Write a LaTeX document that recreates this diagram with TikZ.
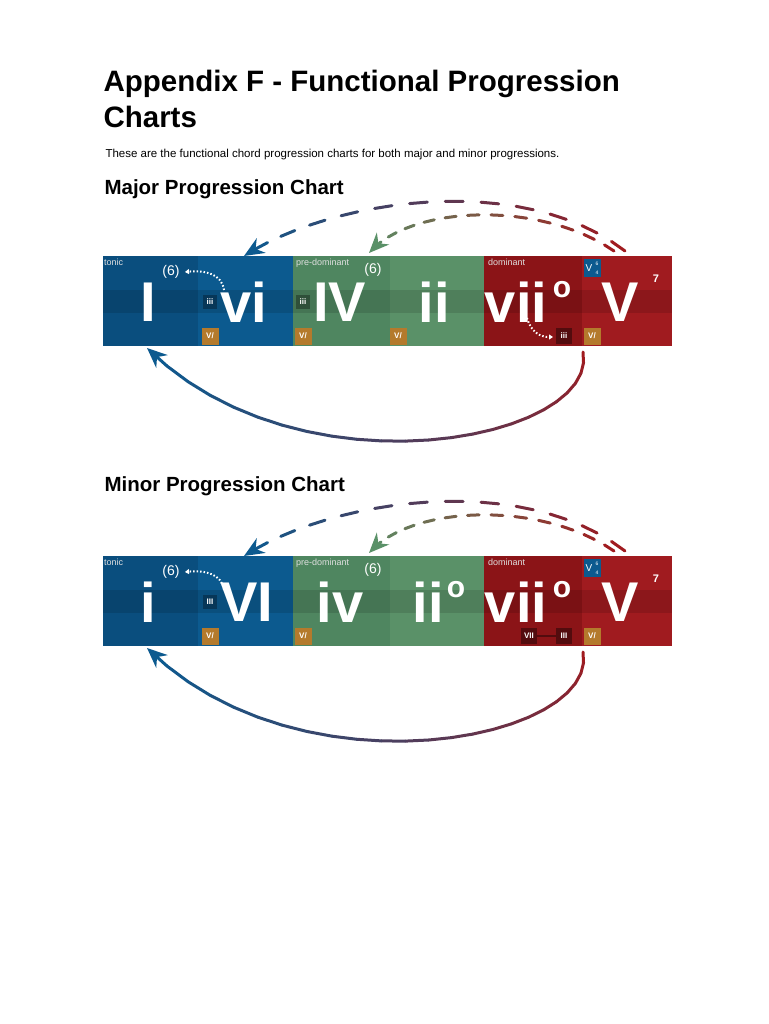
\documentclass[tikz,border=0pt]{standalone}
\usepackage{fontspec}
\setmainfont{Liberation Sans}
\usetikzlibrary{arrows.meta}
\definecolor{tblue}{HTML}{0C5A8F}
\definecolor{tblued}{HTML}{0A4E7E}
\definecolor{pgreen}{HTML}{5A9168}
\definecolor{pgreend}{HTML}{4F8660}
\definecolor{dred}{HTML}{A01B1F}
\definecolor{dredd}{HTML}{8B1417}
\definecolor{vbrown}{HTML}{B47A2C}
\tikzset{
  chord/.style={text=white, font=\fontsize{56}{56}\selectfont\bfseries, inner sep=0pt},
  deg/.style={text=white, font=\fontsize{30}{30}\selectfont\bfseries, inner sep=0pt},
  func/.style={anchor=north west, font=\fontsize{9}{9}\selectfont, text=white!75!gray, inner sep=0pt},
  six/.style={text=white, font=\fontsize{14}{14}\selectfont, inner sep=0pt},
  tiny/.style={text=white, font=\fontsize{5}{5}\selectfont, inner sep=0pt},
  tag/.style={fill=#1, text=white, font=\fontsize{8}{8}\selectfont\bfseries, minimum size=17pt, inner sep=0pt},
  dots/.style={white, line width=2pt, dash pattern=on 1.5pt off 2pt, -{Triangle[length=4pt,width=5pt]}},
}
% gradient curve: start, c1, c2, end, from colour, to colour, dashed (1) or solid (0)
\newcommand{\gradcurve}[7]{%
  \foreach \i in {0,...,24}
    \path #1 .. controls #2 and #3 .. #4 coordinate[pos=\i/24] (g\i);
  \foreach \i in {0,...,22}{
    \pgfmathtruncatemacro{\j}{\i+1}
    \pgfmathtruncatemacro{\m}{100-100*\i/23}
    \pgfmathtruncatemacro{\skip}{#7*mod(\i,2)}
    \ifnum\skip=0
      \draw[line width=3pt, line cap=round, color=#5!\m!#6] (g\i) -- (g\j);
    \fi}
  \draw[line width=3pt, color=#6, -{Stealth[length=20pt,width=17pt]}] (g23) -- (g24);
}
\newcommand{\chart}[1]{%
  % colour blocks
  \fill[tblued] (103,256) rectangle (198,346);
  \fill[tblue] (198,256) rectangle (293,346);
  \fill[pgreend] (293,256) rectangle (390,346);
  \fill[pgreen] (390,256) rectangle (484,346);
  \fill[dredd] (484,256) rectangle (582,346);
  \fill[dred] (582,256) rectangle (672,346);
  \fill[black, opacity=0.12] (103,290) rectangle (672,313);
  \node[func] (tonic) at (104,259) {tonic};
  \node[func] (predom) at (296,259) {pre-dominant};
  \node[func] (dom) at (488,259) {dominant};
  \node[six] (six1) at (171,272) {(6)};
  \node[six] (six2) at (373,270) {(6)};
  \fill[tblue] (584,259) rectangle (601,277);
  \node[text=white, font=\fontsize{10}{10}\selectfont, inner sep=0pt] (sixV) at (589,268) {V};
  \node[tiny] (sixA) at (597,263.5) {6};
  \node[tiny] (sixB) at (597,272.5) {4};
  \foreach \x in {#1}
    \node[tag=vbrown] at (\x,336) {V/};
}
\begin{document}
\begin{tikzpicture}[x=1pt, y=-1pt]
\useasboundingbox (0,0) rectangle (768,1024);
\node[anchor=west, font=\fontsize{29.5}{30}\selectfont\bfseries] (title1) at (100,84) {Appendix F - Functional Progression};
\node[anchor=west, font=\fontsize{29.5}{30}\selectfont\bfseries] (title2) at (100,117) {Charts};
\node[anchor=west, font=\fontsize{11.5}{12}\selectfont] (intro) at (102,155) {These are the functional chord progression charts for both major and minor progressions.};
\node[anchor=west, font=\fontsize{20.5}{21}\selectfont\bfseries] (majhead) at (101,189) {Major Progression Chart};
\node[anchor=west, font=\fontsize{20.5}{21}\selectfont\bfseries] (minhead) at (101,486) {Minor Progression Chart};

% Major chart
\chart{210,303,398,592}
\node[tag=tblued!70!black, minimum size=14pt] (iii1) at (210,302) {iii};
\node[tag=pgreend!60!black, minimum size=14pt] (iii2) at (303,302) {iii};
\node[tag=dredd!60!black, minimum size=16pt] (iii3) at (564,336) {iii};
\node[chord] (I) at (148,302) {I};
\node[chord, anchor=west] (vi) at (220,302) {vi};
\node[chord, anchor=west] (IV) at (313,302) {IV};
\node[chord] (ii) at (434,302) {ii};
\node[chord] (vii) at (516,302) {vii};
\node[deg] at (562,290) {o};
\node[chord] (V) at (620,302) {V};
\node[text=white, font=\fontsize{11}{11}\selectfont\bfseries] at (656,279) {7};
\draw[dots] (224,290) .. controls (222,274) and (205,270) .. (185,272);
\draw[dots] (527,318) .. controls (531,332) and (540,337) .. (553,337);
\gradcurve{(625,251)}{(520,170)}{(330,200)}{(244,256)}{dred}{tblue}{1}
\gradcurve{(614,251)}{(540,200)}{(410,205)}{(369,253)}{dred}{pgreen}{1}
\gradcurve{(583,352)}{(600,440)}{(300,500)}{(147,348)}{dred}{tblue}{0}

% Minor chart
\begin{scope}[shift={(0,300)}]
\chart{210,303,592}
\node[tag=tblued!70!black, minimum size=14pt] (III1) at (210,302) {III};
\draw[dredd!60!black, line width=1.5pt] (529,336) -- (564,336);
\node[tag=dredd!60!black, minimum size=16pt] (VII) at (529,336) {VII};
\node[tag=dredd!60!black, minimum size=16pt] (III2) at (564,336) {III};
\node[chord] (i) at (148,302) {i};
\node[chord, anchor=west] (VI) at (220,302) {VI};
\node[chord] (iv) at (340,302) {iv};
\node[chord] (iio) at (428,302) {ii};
\node[deg] at (456,290) {o};
\node[chord] (viio) at (516,302) {vii};
\node[deg] at (562,290) {o};
\node[chord] (V7) at (620,302) {V};
\node[text=white, font=\fontsize{11}{11}\selectfont\bfseries] at (656,279) {7};
\draw[dots] (224,290) .. controls (222,274) and (205,270) .. (185,272);
\gradcurve{(625,251)}{(520,170)}{(330,200)}{(244,256)}{dred}{tblue}{1}
\gradcurve{(614,251)}{(540,200)}{(410,205)}{(369,253)}{dred}{pgreen}{1}
\gradcurve{(583,352)}{(600,440)}{(300,500)}{(147,348)}{dred}{tblue}{0}
\end{scope}
\end{tikzpicture}
\end{document}
